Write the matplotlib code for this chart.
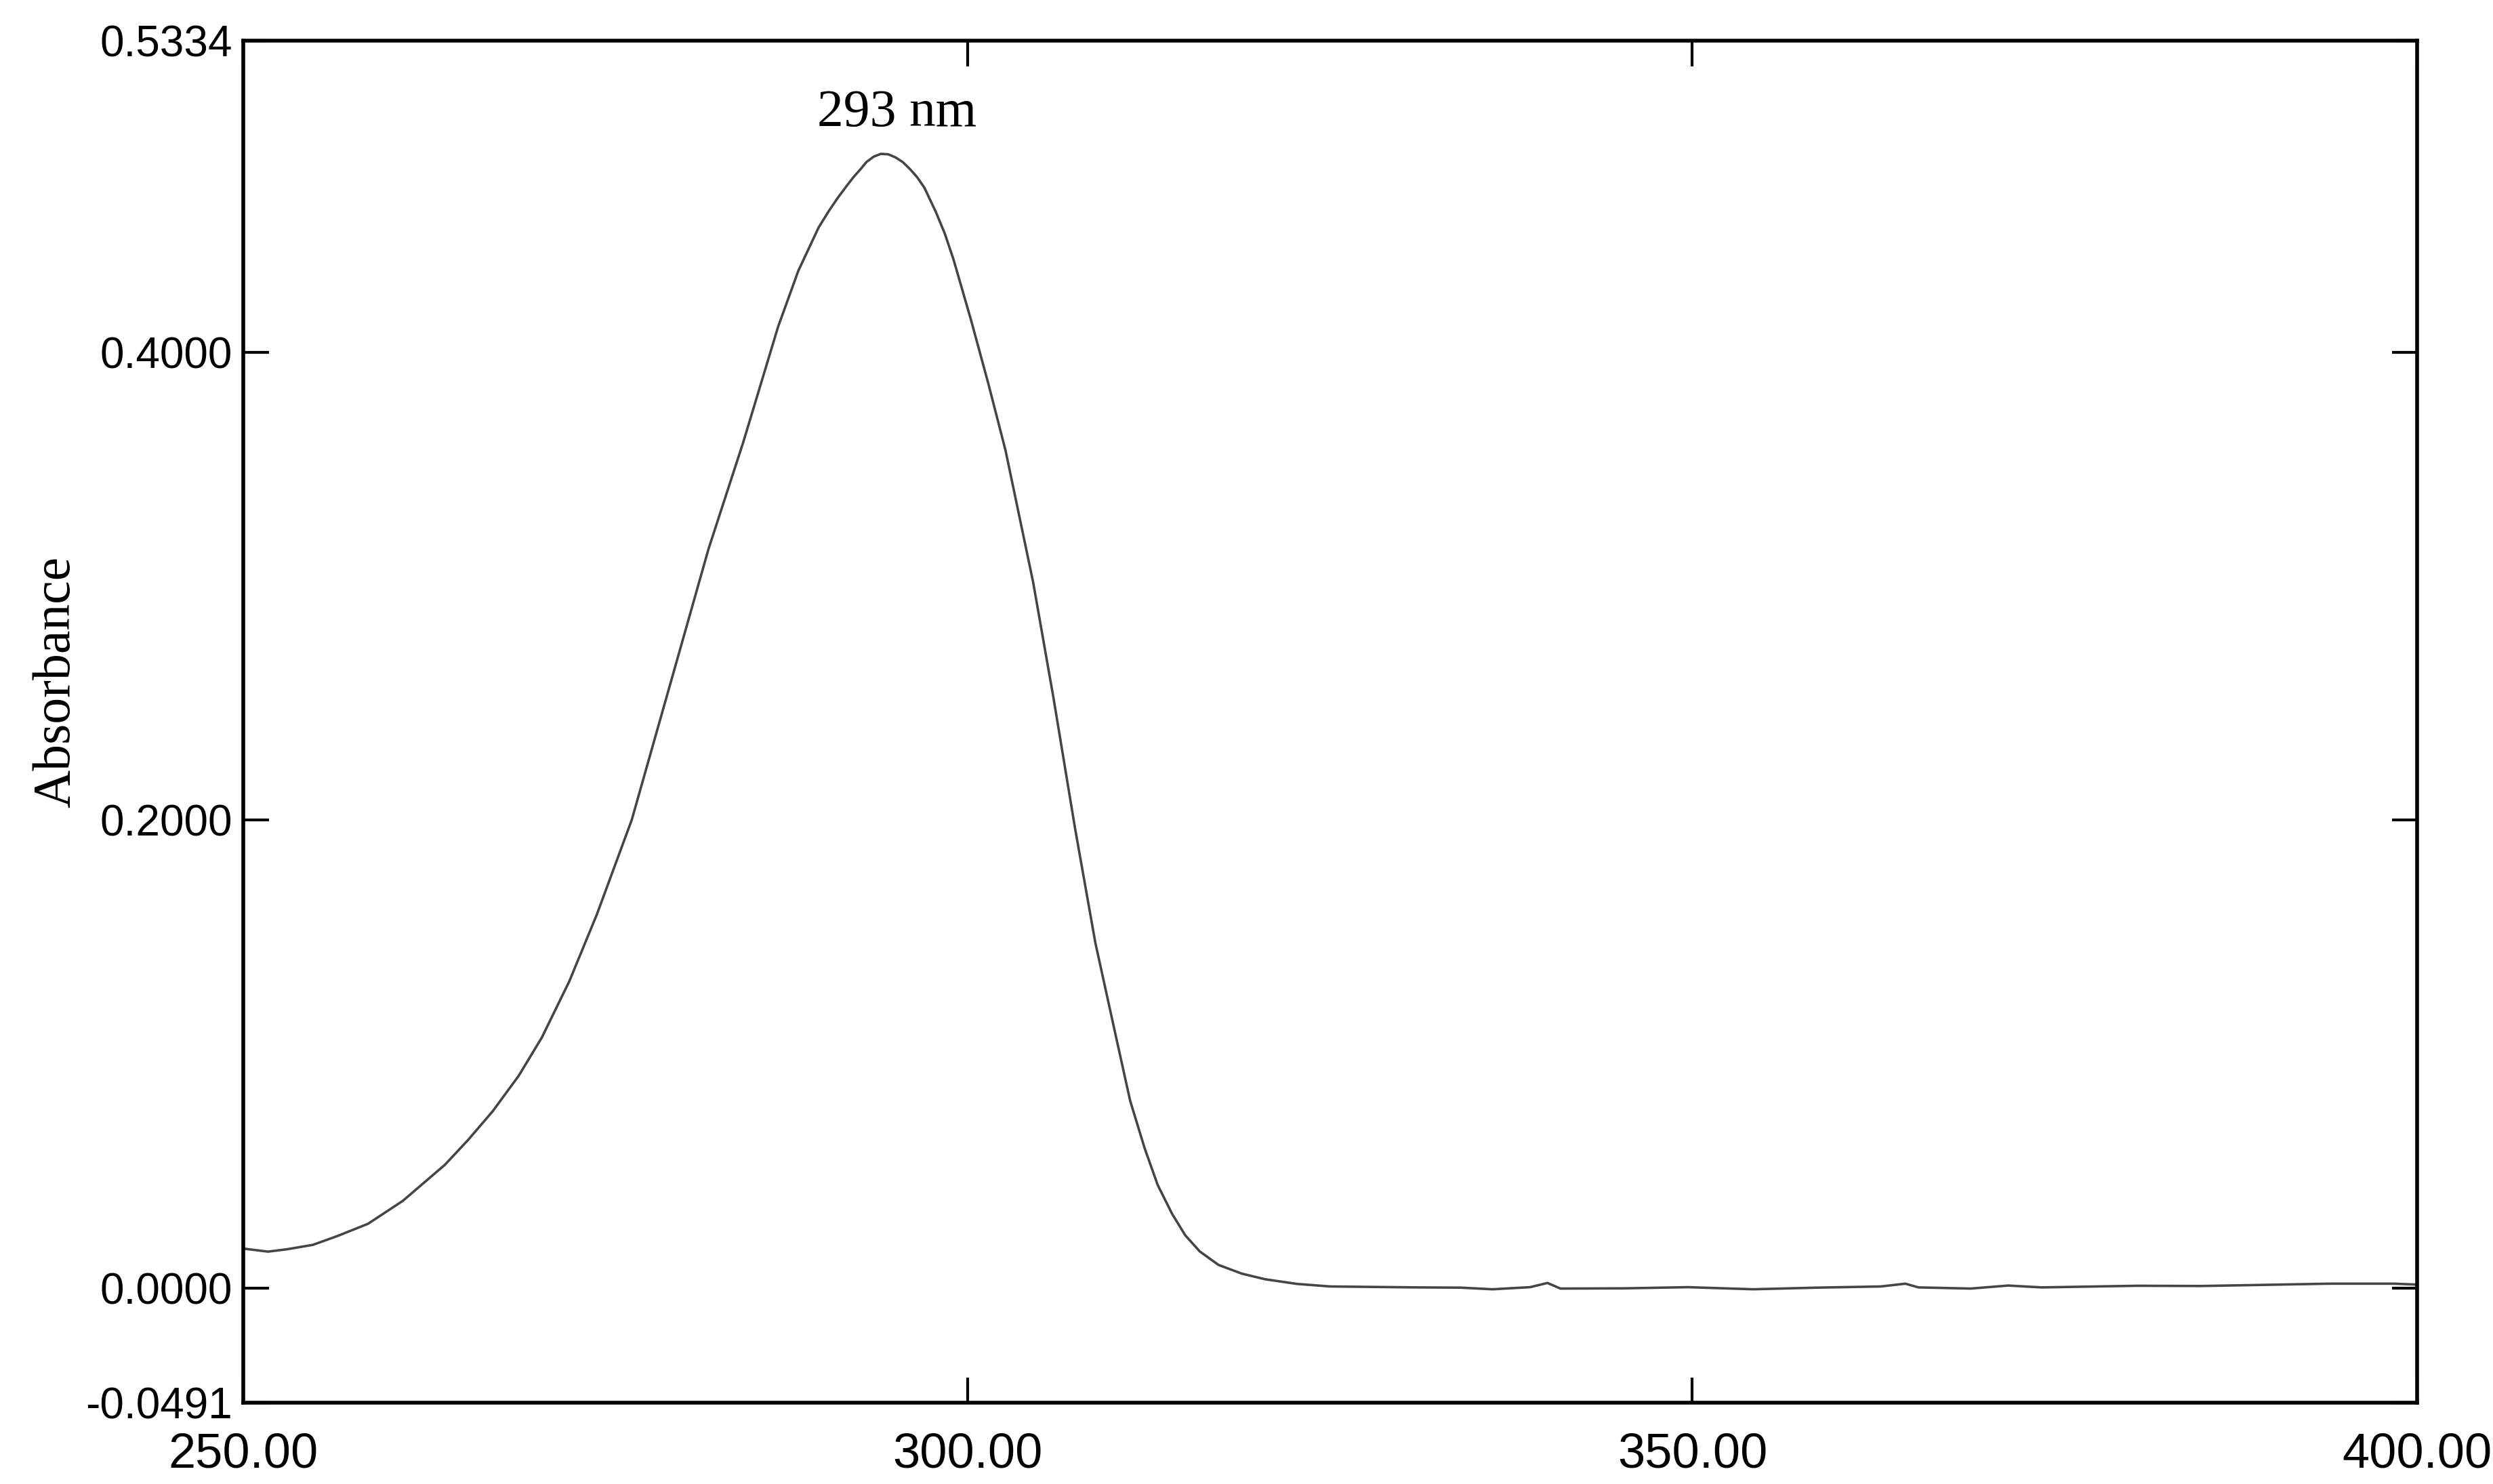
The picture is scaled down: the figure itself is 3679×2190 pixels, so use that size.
import matplotlib
matplotlib.use("Agg")
import matplotlib.pyplot as plt

# UV-Vis spectrum, values
wavelength = [250.0, 251.7, 253.0, 254.8, 256.5, 258.6, 261.0, 263.9, 265.5,
              267.2, 269.0, 270.6, 272.5, 274.4, 276.8, 279.7, 282.1, 284.5,
              286.9, 288.3, 289.7, 290.4, 291.0, 291.6, 292.1, 292.6, 293.0,
              293.5, 294.0, 294.5, 295.0, 295.5, 296.0, 296.5, 297.0, 297.8,
              298.4, 299.0, 300.2, 301.4, 302.6, 304.5, 305.9, 307.4, 308.8,
              310.3, 311.2, 312.2, 313.1, 314.1, 315.0, 316.0, 317.3, 318.9,
              320.5, 322.7, 325.0, 328.0, 331.0, 334.0, 336.2, 338.8, 340.0,
              340.9, 345.3, 349.7, 354.2, 358.6, 363.0, 364.7, 365.6, 369.2,
              371.8, 374.1, 380.7, 385.1, 389.6, 394.0, 398.4, 400.0]
absorbance = [0.0168, 0.0155, 0.0165, 0.0184, 0.0222, 0.0274, 0.0372, 0.0526, 0.0632,
              0.0755, 0.0907, 0.1071, 0.1312, 0.1598, 0.2001, 0.2635, 0.3160, 0.3617,
              0.4110, 0.4350, 0.4535, 0.4605, 0.4660, 0.4710, 0.4750, 0.4785, 0.4815,
              0.4838, 0.4850, 0.4848, 0.4835, 0.4815, 0.4785, 0.4750, 0.4705, 0.4600,
              0.4510, 0.4400, 0.4143, 0.3870, 0.3581, 0.3019, 0.2526, 0.1964, 0.1475,
              0.1052, 0.0800, 0.0597, 0.0440, 0.0316, 0.0225, 0.0156, 0.0098, 0.0061,
              0.0037, 0.0017, 0.0006, 0.0004, 0.0002, 0.0001, -0.0006, 0.0003, 0.0021,
              -0.0003, -0.0002, 0.0003, -0.0006, 0.0001, 0.0006, 0.0018, 0.0002, -0.0003,
              0.0010, 0.0002, 0.0009, 0.0008, 0.0013, 0.0018, 0.0018, 0.0014]

y_ticks = [-0.0491, 0.0, 0.2, 0.4, 0.5334]
y_ticklabels = ["-0.0491", "0.0000", "0.2000", "0.4000", "0.5334"]
x_ticks = [250, 300, 350, 400]
x_ticklabels = ["250.00", "300.00", "350.00", "400.00"]
peak_label = "293 nm"

fig = plt.figure(figsize=(36.8, 21.9), dpi=100)
ax = fig.add_axes([0.0976, 0.0548, 0.8716, 0.9178])

ax.plot(wavelength, absorbance, color="#454545", lw=2.6)

ax.set_xlim(250, 400)
ax.set_ylim(-0.0491, 0.5334)

ax.set_xticks(x_ticks)
ax.set_xticklabels(x_ticklabels, family="Liberation Sans", fontsize=52)
ax.set_yticks(y_ticks)
ax.set_yticklabels(y_ticklabels, family="Liberation Sans", fontsize=46)
ax.tick_params(axis="both", direction="in", length=27, width=3,
               top=True, right=True, color="black")
ax.tick_params(axis="y", pad=12)
ax.tick_params(axis="x", pad=31)

for s in ax.spines.values():
    s.set_linewidth(4)
    s.set_color("black")

ax.set_ylabel("Absorbance", family="Liberation Serif", fontsize=56)
ax.yaxis.set_label_coords(-0.086, 0.529)
ax.yaxis.label.set_verticalalignment("center")

ax.text(295.1, 0.497, peak_label, family="Liberation Serif", fontsize=56,
        ha="center", va="baseline")

plt.savefig("out.png", dpi=100)
